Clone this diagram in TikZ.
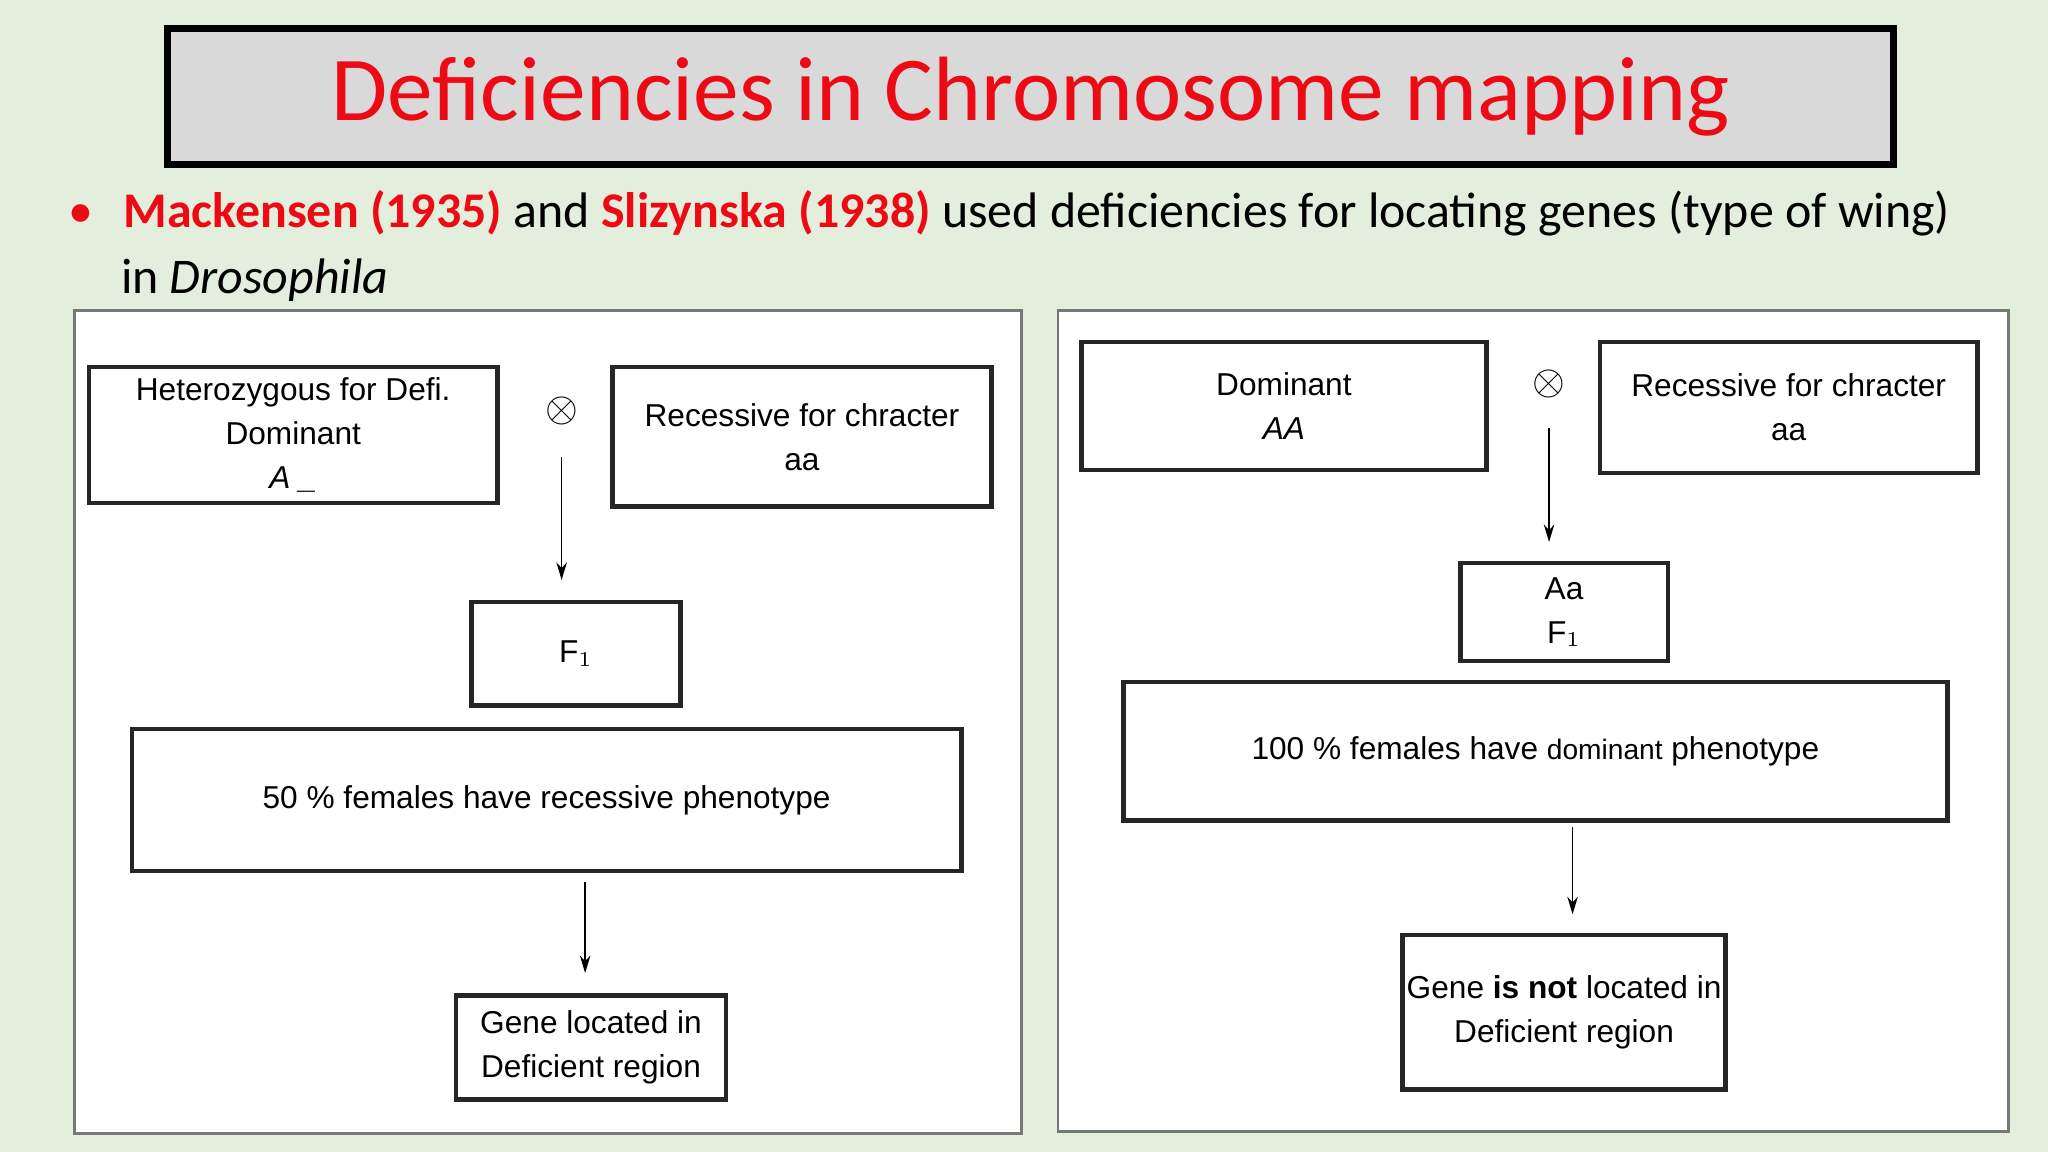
\documentclass[tikz,border=0pt]{standalone}
\usepackage{fontspec}
\setmainfont{Carlito}
\newfontfamily\boxfont{Liberation Sans}
\usetikzlibrary{arrows.meta, positioning, calc}
\definecolor{slideGreen}{RGB}{228, 238, 220}
\definecolor{titleGray}{RGB}{217, 217, 217}
\definecolor{titleRed}{RGB}{238, 10, 20}
\definecolor{panelGray}{RGB}{120, 120, 120}
\begin{document}
\begin{tikzpicture}[
    x=0.013061cm, y=-0.013061cm,
    panel/.style={draw=panelGray, fill=white, line width=0.8pt},
    box/.style={rectangle, draw=black!85, line width=1.3pt, align=center, font=\boxfont\fontsize{9}{12.5}\selectfont, inner sep=0pt},
    arrow/.style={-{Stealth[length=5pt,width=3pt]}, thin, black}
]
    % slide background
    \fill[slideGreen] (0,0) rectangle (1568,882);
    \useasboundingbox (0,0) rectangle (1568,882);

    % title
    \node[draw=black, line width=2pt, fill=titleGray, minimum width=1322*0.013061cm, minimum height=104*0.013061cm, text=titleRed, font=\fontsize{26}{30}\selectfont] (title) at (789,74) {Deficiencies in Chromosome mapping};

    % bullet text
    \node[anchor=north west, align=left, font=\fontsize{14.2}{19}\selectfont, inner sep=0pt] (bullet) at (52,145)
        {\textcolor{titleRed}{\textbullet}\hspace{0.6em}\textcolor{titleRed}{\textbf{Mackensen (1935)}} and \textcolor{titleRed}{\textbf{Slizynska (1938)}} used deficiencies for locating genes (type of wing)\\\hspace*{1.05em}in \textit{Drosophila}};

    % panels
    \draw[panel] (57,238) rectangle (782,868);
    \draw[panel] (810,238) rectangle (1538,866);

    % left panel
    \node[box, minimum width=313*0.013061cm, minimum height=104*0.013061cm] (het) at (224.5,333) {Heterozygous for Defi.\\Dominant\\\textit{A \_}};
    \node[font=\boxfont\large] (crossL) at (430,315) {$\otimes$};
    \node[box, minimum width=290*0.013061cm, minimum height=107*0.013061cm] (recL) at (614,334.5) {Recessive for chracter\\aa};
    \coordinate (aL1) at (430,350);
    \coordinate (aL2) at (430,444);
    \node[box, minimum width=160*0.013061cm, minimum height=79*0.013061cm] (f1L) at (441,500.5) {F$_1$};
    \node[box, minimum width=635*0.013061cm, minimum height=109*0.013061cm] (halfL) at (418.5,612.5) {50 \% females have recessive phenotype};
    \coordinate (bL1) at (448,675);
    \coordinate (bL2) at (448,745);
    \node[box, minimum width=207*0.013061cm, minimum height=80*0.013061cm] (geneL) at (452.5,802) {Gene located in\\Deficient region};

    \draw[arrow] (aL1) -- (aL2);
    \draw[arrow] (bL1) -- (bL2);

    % right panel
    \node[box, minimum width=310*0.013061cm, minimum height=98*0.013061cm] (domR) at (983,311) {Dominant\\\textit{AA}};
    \node[font=\boxfont\large] (crossR) at (1186,294) {$\otimes$};
    \node[box, minimum width=289*0.013061cm, minimum height=100*0.013061cm] (recR) at (1369.5,312) {Recessive for chracter\\aa};
    \coordinate (aR1) at (1186,328);
    \coordinate (aR2) at (1186,415);
    \node[box, minimum width=159*0.013061cm, minimum height=75*0.013061cm] (f1R) at (1197.5,468.5) {Aa\\F$_1$};
    \node[box, minimum width=631*0.013061cm, minimum height=106*0.013061cm] (allR) at (1175.5,575) {100 \% females have {\footnotesize dominant} phenotype};
    \coordinate (bR1) at (1204,633);
    \coordinate (bR2) at (1204,700);
    \node[box, minimum width=247*0.013061cm, minimum height=118*0.013061cm] (geneR) at (1197.5,775) {Gene \textbf{is not} located in\\Deficient region};

    \draw[arrow] (aR1) -- (aR2);
    \draw[arrow] (bR1) -- (bR2);
\end{tikzpicture}
\end{document}
